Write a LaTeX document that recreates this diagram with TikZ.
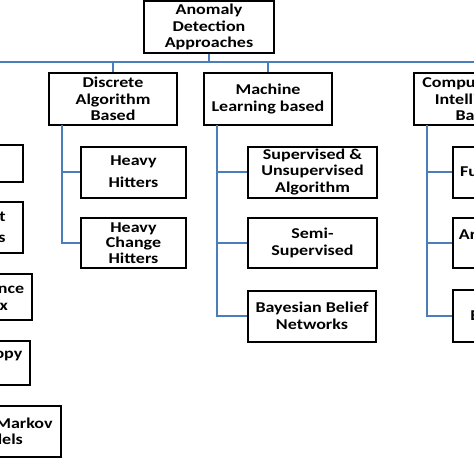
\documentclass[tikz,border=0pt]{standalone}
\usepackage{fontspec}
\newfontfamily\boxfont{Carlito}[FakeStretch=1.2]
\definecolor{linkblue}{RGB}{74,126,187}
\tikzset{
  box/.style={draw=black, line width=2pt, fill=white, inner sep=0pt, align=center,
    font={\boxfont\bfseries\fontsize{15}{16.5}\selectfont}},
  link/.style={draw=linkblue, line width=2pt}
}
\begin{document}
\begin{tikzpicture}[x=1pt,y=-1pt]
\useasboundingbox (0,0) rectangle (474,474);
\clip (0,0) rectangle (474,474);
% root
\node[box, minimum width=130pt, minimum height=52pt] (root) at (209,27) {Anomaly\\Detection\\Approaches};
% level 1
\node[box, minimum width=128pt, minimum height=52pt] (disc) at (113,99) {Discrete\\Algorithm\\Based};
\node[box, minimum width=128pt, minimum height=52pt] (ml) at (268,99) {Machine\\Learning based};
\node[box, minimum width=128pt, minimum height=52pt] (ci) at (478,99) {Computational\\Intelligence\\Based};
% discrete children
\node[box, minimum width=105pt, minimum height=51pt, font={\boxfont\bfseries\fontsize{15}{22}\selectfont}] (hh) at (133.5,172) {Heavy\\Hitters};
\node[box, minimum width=105pt, minimum height=50pt, font={\boxfont\bfseries\fontsize{15}{15.5}\selectfont}] (hch) at (133.5,243) {Heavy\\Change\\Hitters};
% ML children
\node[box, minimum width=129pt, minimum height=51pt] (sup) at (312.5,172) {Supervised \&\\Unsupervised\\Algorithm};
\node[box, minimum width=129pt, minimum height=50pt] (semi) at (312.5,243) {Semi-\\Supervised};
\node[box, minimum width=128pt, minimum height=51pt] (bay) at (312,316) {Bayesian Belief\\Networks};
% CI children
\node[box, minimum width=129pt, minimum height=51pt] (fuzzy) at (517.5,172) {Fuzzy Inference};
\node[box, minimum width=129pt, minimum height=50pt] (ann) at (517.5,243) {Artificial Neural\\Networks};
\node[box, minimum width=129pt, minimum height=52pt] (evol) at (517.5,316) {Evolutionary};
% statistical children (partly visible)
\node[box, minimum width=130pt, minimum height=37pt] (pca) at (-42,163.5) {PCA Based};
\node[box, minimum width=96pt, minimum height=51pt, font={\boxfont\bfseries\fontsize{15}{21}\selectfont}] (wave) at (-25,227.5) {Wavelet\\Analysis};
\node[box, minimum width=98pt, minimum height=46pt] (cov) at (-17,297) {Covariance\\Matrix};
\node[box, minimum width=154pt, minimum height=44pt, font={\boxfont\bfseries\fontsize{15}{20}\selectfont}] (ent) at (-47,363) {Maximum Entropy\\Estimation};
\node[box, minimum width=132pt, minimum height=51pt] (hmm) at (-5,431.5) {Hidden Markov\\Models};
% bus
\coordinate (busL) at (-10,62);
\coordinate (busR) at (490,62);
\draw[link] (busL) -- (busR);
\draw[link] (root.south) -- (root.south |- busL);
\draw[link] (disc.north) -- (disc.north |- busL);
\draw[link] (ml.north) -- (ml.north |- busL);
\draw[link] (ci.north) -- (ci.north |- busL);
% discrete branch
\coordinate (dtop) at (62,125);
\draw[link] (dtop) |- (hh.west);
\draw[link] (dtop) |- (hch.west);
% ML branch
\coordinate (mtop) at (217,125);
\draw[link] (mtop) |- (sup.west);
\draw[link] (mtop) |- (semi.west);
\draw[link] (mtop) |- (bay.west);
% CI branch
\coordinate (ctop) at (427,125);
\draw[link] (ctop) |- (fuzzy.west);
\draw[link] (ctop) |- (ann.west);
\draw[link] (ctop) |- (evol.west);
\end{tikzpicture}
\end{document}
